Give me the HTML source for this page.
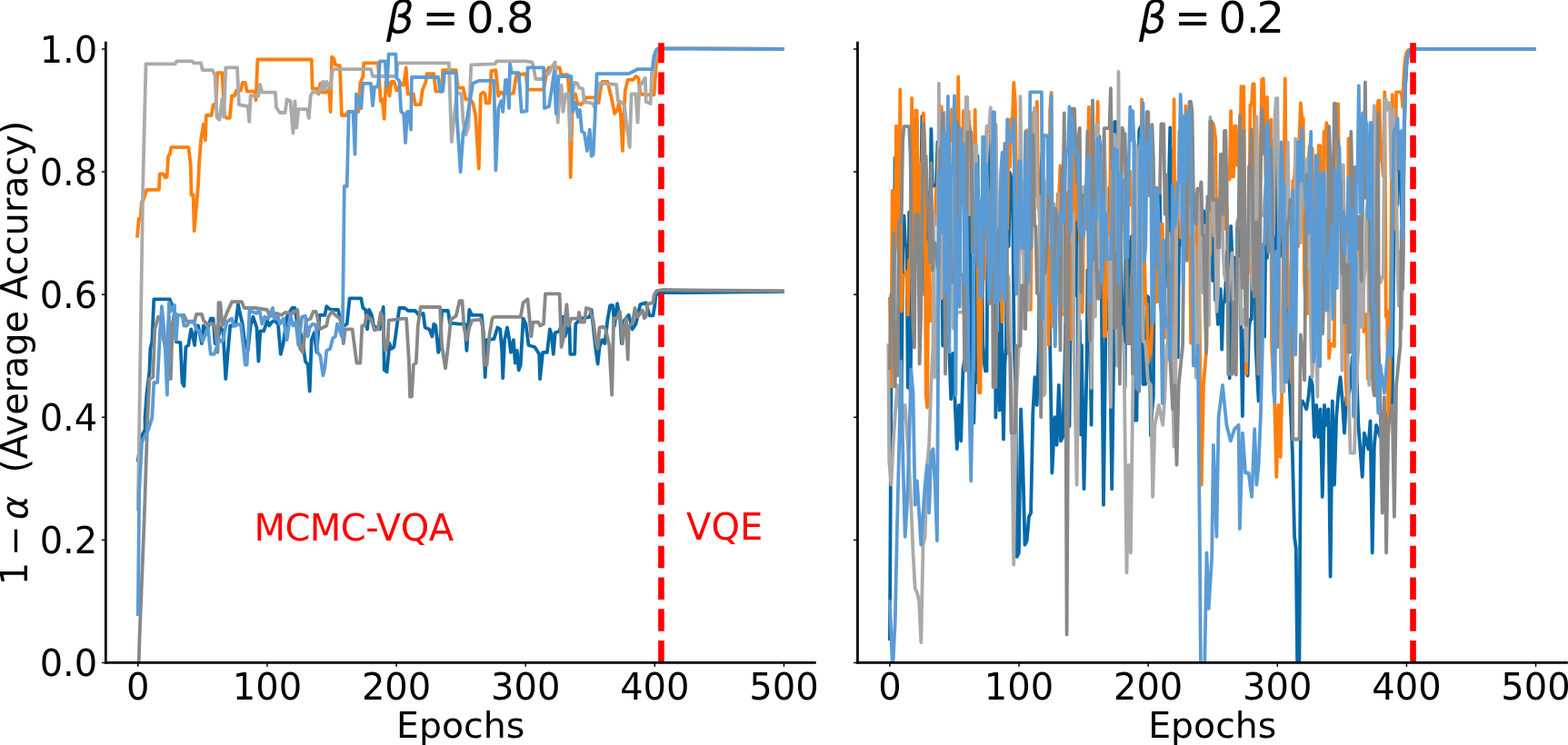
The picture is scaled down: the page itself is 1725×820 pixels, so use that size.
<!DOCTYPE html>
<html><head><meta charset="utf-8"><title>plot</title>
<style>
html,body{margin:0;padding:0;background:#fff;width:1725px;height:820px;overflow:hidden}
svg{display:block}
text{font-family:"DejaVu Sans","Liberation Sans",sans-serif;fill:#000}
.tk{font-size:40px}
.ti{font-size:48px}
.red{font-size:40px;fill:#ff0000}
</style></head><body>
<svg width="1725" height="820" viewBox="0 0 1725 820">
<defs><clipPath id="cl"><rect x="116.34" y="47.2" width="780" height="682.25"/></clipPath>
<clipPath id="cr"><rect x="943.44" y="47.2" width="780" height="682.25"/></clipPath></defs>
<g clip-path="url(#cl)">
<polyline points="151.8,506.6 156.1,479.5 159.6,472.8 159.5,460.0 161.5,432.7 164.4,409.3 165.4,383.9 167.3,376.1 169.3,329.3 186.8,329.3 188.8,335.1 191.7,336.1 193.7,376.1 198.5,377.1 200.5,421.0 202.4,424.9 204.4,382.0 207.3,380.0 210.2,362.4 212.2,370.2 214.1,380.0 216.1,358.5 218.0,358.5 222.0,378.0 223.9,358.5 227.8,364.4 231.7,350.7 234.6,350.7 236.6,378.0 239.5,374.1 242.4,360.5 245.4,364.4 248.3,417.1 250.2,393.7 253.2,358.5 259.0,358.5 262.0,335.1 264.9,348.8 266.8,356.6 268.8,374.1 272.7,385.9 275.6,358.5 278.5,348.8 282.4,360.5 284.4,397.6 286.3,364.4 290.2,364.4 294.1,352.7 296.1,358.5 299.0,354.6 302.0,352.7 305.9,356.6 308.8,389.8 311.7,378.0 315.6,348.8 321.5,339.0 324.4,339.0 327.3,358.5 330.2,364.4 334.1,383.9 335.9,397.6 338.8,401.5 340.7,430.7 342.7,374.1 345.6,366.3 348.5,387.8 351.5,346.8 357.3,346.8 359.3,337.1 362.2,340.0 368.0,341.0 372.0,341.0 375.9,358.5 378.8,358.5 381.7,356.6 384.6,328.3 397.3,328.3 399.3,339.0 402.2,341.0 404.1,362.4 406.1,341.0 409.0,346.8 411.0,358.5 413.9,360.5 417.8,362.4 421.7,338.0 422.7,407.3 425.6,409.3 428.5,378.0 430.5,383.9 433.4,382.0 435.4,368.3 439.3,339.0 445.1,339.0 449.0,342.0 456.8,342.0 460.7,346.8 465.6,344.9 467.6,360.5 472.4,362.4 475.4,370.2 477.3,356.6 479.3,358.5 482.2,387.8 484.1,382.0 486.1,342.0 492.9,342.0 494.9,355.6 505.6,356.6 511.5,356.6 513.4,385.9 516.3,341.0 519.3,346.8 529.8,346.8 531.7,364.4 533.7,415.1 535.6,374.1 543.4,373.2 547.3,360.5 550.2,362.4 552.2,385.9 553.2,416.1 555.1,374.1 558.0,360.5 560.0,372.2 562.0,387.8 564.9,374.1 566.8,399.5 568.8,385.9 570.7,407.3 572.7,401.5 575.6,350.7 578.5,356.6 581.5,380.0 588.3,382.0 593.2,389.8 594.1,417.1 597.1,387.8 602.0,387.8 604.9,362.4 606.8,368.3 608.8,389.8 610.7,366.3 615.6,364.4 619.5,348.8 621.5,370.2 626.3,354.6 627.3,389.8 632.2,389.8 633.2,356.6 639.0,350.7 648.8,348.8 650.7,341.0 654.6,378.0 657.6,400.5 659.5,382.0 662.4,374.1 665.4,378.0 668.3,352.7 671.2,336.1 674.1,336.1 676.1,358.5 679.0,334.1 682.0,348.8 683.9,378.0 686.8,352.7 691.7,346.8 695.6,362.4 699.5,356.6 704.4,335.1 710.7,333.2 714.6,347.3 718.5,347.3 720.5,334.6 721.5,324.9 724.4,322.9 728.3,322.1 760.0,322.0 861.0,320.9" fill="none" stroke="#0569a8" stroke-width="3.8" stroke-linejoin="round" stroke-linecap="square"/>
<polyline points="151.1,259.7 152.7,240.6 154.6,241.4 155.8,222.4 157.4,220.8 161.4,208.9 174.9,208.9 175.7,191.5 179.6,191.5 182.0,195.5 183.6,194.7 185.2,171.7 186.8,170.1 188.3,162.2 207.4,162.2 209.7,181.2 210.5,214.5 212.6,214.5 213.7,254.1 218.0,205.0 219.0,181.6 221.0,154.3 223.9,136.7 225.9,154.3 226.8,127.0 232.7,127.0 234.6,115.2 237.6,115.2 239.1,80.1 244.4,80.1 246.9,127.0 249.3,129.9 252.8,129.9 255.1,105.5 258.0,105.5 260.0,99.6 264.9,99.6 266.8,90.9 269.8,90.9 271.7,100.6 280.5,100.6 281.5,110.4 283.4,65.5 342.7,65.5 343.7,97.7 349.5,97.7 350.5,103.5 352.4,91.8 354.4,101.6 359.3,101.6 362.2,97.7 363.6,123.0 365.1,62.6 367.1,64.5 369.0,71.3 373.9,72.3 375.9,127.0 380.7,127.0 382.7,123.0 394.4,123.0 396.3,91.8 399.3,84.0 400.2,69.4 415.9,69.4 418.8,111.3 420.7,109.4 422.7,130.9 424.6,89.9 426.6,89.9 428.5,105.5 430.5,89.9 433.4,89.9 436.3,99.6 438.3,97.7 441.2,91.8 444.1,93.8 446.7,74.3 448.6,103.5 454.9,103.5 456.8,115.2 462.7,115.2 464.6,99.6 468.5,89.9 469.5,81.1 477.3,81.1 479.3,100.6 486.1,100.6 487.1,77.2 501.7,77.2 503.7,96.7 509.5,96.7 512.4,109.4 517.3,109.4 520.2,113.3 523.2,127.0 526.8,185.5 528.8,103.5 531.7,101.6 533.7,103.5 534.6,113.3 538.5,113.3 540.5,78.2 545.4,77.2 548.3,105.5 551.2,101.6 554.1,103.5 557.1,101.6 561.0,103.5 564.9,102.6 567.8,84.0 571.7,82.1 578.5,81.1 580.5,98.7 598.0,98.7 602.0,77.2 603.9,74.3 615.6,74.3 617.6,83.0 621.5,82.1 624.4,82.1 626.3,103.5 627.7,195.2 629.3,132.8 630.2,103.5 633.2,103.5 635.1,113.3 639.0,115.2 641.0,113.3 644.9,107.4 656.6,107.4 658.5,113.3 660.5,99.6 662.4,89.9 668.3,89.9 672.2,105.5 676.1,125.0 679.0,121.1 681.0,113.3 682.9,127.0 684.9,166.0 686.8,117.2 687.8,99.6 690.7,87.9 696.6,87.9 699.5,84.0 702.4,86.0 704.4,103.5 714.6,104.4 719.5,104.4 721.0,83.9 722.4,64.4 723.4,54.6 725.4,53.3 760.0,53.3 861.0,54.0" fill="none" stroke="#ff7f0e" stroke-width="3.8" stroke-linejoin="round" stroke-linecap="square"/>
<polyline points="151.8,560.6 155.4,324.2 157.2,205.3 157.2,205.0 160.5,70.4 192.7,70.4 194.2,67.4 211.2,67.4 213.2,69.4 221.0,69.4 222.9,77.2 233.7,77.2 236.6,83.0 238.5,128.9 241.5,131.8 244.4,108.4 246.3,128.9 248.3,74.3 261.0,74.3 262.9,115.2 272.7,117.2 274.2,133.8 275.6,105.5 284.4,105.5 286.0,92.8 288.3,101.6 302.9,101.6 303.9,118.2 307.8,124.0 313.7,124.0 315.6,109.4 319.5,111.3 322.4,146.5 324.4,111.3 326.3,140.6 328.3,120.1 337.8,120.1 339.8,129.9 341.7,105.5 343.7,101.6 351.5,101.6 355.4,89.9 357.3,97.7 359.3,89.9 363.2,97.7 366.1,76.2 408.0,76.2 410.0,84.0 436.3,84.0 437.3,69.4 493.9,69.4 494.9,101.6 496.8,156.2 498.8,136.7 502.7,101.6 507.6,103.5 509.5,132.8 512.4,148.4 515.4,138.7 518.3,71.3 544.4,70.4 546.3,67.4 578.5,67.4 585.4,68.4 587.3,76.2 589.3,87.0 597.1,87.0 599.0,81.1 603.9,81.1 606.8,74.3 610.7,68.4 611.7,93.8 613.7,134.8 615.6,103.5 617.6,93.8 619.5,123.0 622.4,103.5 625.4,103.5 627.3,154.3 629.3,103.5 632.2,90.9 635.1,91.8 637.1,96.7 641.0,97.7 642.9,112.3 650.7,113.3 652.7,115.2 654.6,119.1 656.6,103.5 659.5,91.8 668.3,91.8 674.1,92.8 678.0,92.8 680.0,111.3 682.9,112.3 686.8,115.2 688.8,132.8 692.7,162.1 694.6,103.5 699.5,103.5 701.5,134.8 703.4,95.7 709.8,85.9 710.7,112.2 713.7,113.2 715.6,114.1 717.1,79.0 718.5,79.0 720.0,67.3 722.4,59.5 724.4,53.7 726.3,53.4 760.0,53.4 861.0,54.0" fill="none" stroke="#aaaaaa" stroke-width="3.8" stroke-linejoin="round" stroke-linecap="square"/>
<polyline points="152.7,729.5 153.5,702.4 158.6,574.1 161.7,479.5 162.4,460.0 164.4,417.1 168.3,415.1 170.2,362.4 174.1,348.8 177.1,350.7 180.0,374.1 182.9,385.9 185.9,348.8 187.8,417.1 189.8,356.6 191.7,344.9 195.6,346.8 202.4,346.8 205.4,353.7 214.1,353.7 216.1,345.9 222.0,345.9 223.9,352.7 227.8,356.6 235.6,356.6 237.6,368.3 239.5,387.8 240.5,333.2 242.4,333.2 244.4,358.5 250.2,342.9 255.1,332.2 265.9,332.2 268.8,339.0 280.5,339.0 294.1,341.0 296.1,346.8 302.0,348.8 303.9,344.9 309.8,346.8 313.7,343.9 321.5,344.9 327.3,341.0 330.2,383.9 333.2,387.8 336.8,352.7 341.7,350.7 344.6,342.9 347.6,342.9 349.5,350.7 351.5,362.4 355.4,360.5 359.3,358.5 361.2,348.8 365.1,342.9 369.0,346.8 373.9,350.7 375.9,356.6 377.8,378.0 379.8,362.4 387.6,362.4 392.4,399.5 396.3,399.5 398.3,358.5 401.2,358.5 403.2,346.8 406.1,350.7 408.0,350.7 412.0,363.4 415.9,362.4 418.8,343.9 420.7,348.8 423.7,385.9 426.6,378.0 427.6,352.7 443.2,350.7 447.1,350.7 450.0,399.5 451.0,436.6 452.9,436.6 454.9,401.5 457.8,399.5 459.8,358.5 462.7,338.0 484.1,338.0 486.1,380.0 490.0,405.4 492.9,382.0 495.9,351.7 501.7,347.8 505.6,331.2 508.5,331.2 510.5,360.5 513.4,374.1 516.3,360.5 519.3,352.7 528.8,351.7 530.7,358.5 532.7,401.5 535.6,401.5 538.5,368.3 541.5,350.7 543.4,348.8 572.7,348.8 575.6,333.2 580.5,329.3 582.4,348.8 584.4,370.2 586.3,354.6 592.2,354.6 594.1,358.5 598.0,356.6 600.0,323.4 615.6,323.4 617.6,382.0 619.5,374.1 623.4,335.1 625.4,358.5 628.3,350.7 636.1,350.7 637.1,343.9 639.0,354.6 642.9,354.6 644.9,339.0 648.8,340.0 652.7,352.7 655.6,376.1 657.6,383.9 659.5,360.5 663.4,359.5 666.3,362.4 670.2,380.0 673.2,434.6 675.1,350.7 679.0,349.8 682.0,342.9 684.9,378.0 686.8,358.5 688.8,350.7 690.7,395.6 691.7,358.5 695.6,356.6 698.5,339.0 701.5,348.8 706.8,341.5 708.8,350.2 710.7,348.3 712.7,334.6 718.5,333.2 719.5,324.9 722.4,320.0 728.3,319.0 760.0,319.5 861.0,320.1" fill="none" stroke="#888888" stroke-width="3.8" stroke-linejoin="round" stroke-linecap="square"/>
<polyline points="151.8,676.1 153.2,540.3 156.1,486.3 163.2,472.8 167.3,460.0 169.3,421.0 173.2,421.0 176.1,364.4 178.0,337.1 180.0,358.5 182.0,387.8 183.9,434.6 185.9,333.2 187.8,342.9 191.7,336.1 193.7,374.1 195.6,346.8 200.5,346.8 202.4,358.5 205.4,358.5 208.3,354.6 213.2,354.6 216.1,362.4 219.0,364.4 221.0,368.3 222.9,376.1 225.9,368.3 228.8,360.5 231.7,389.8 235.6,389.8 238.5,382.0 240.5,372.2 243.4,376.1 245.4,374.1 249.3,354.6 255.1,350.7 257.1,358.5 264.9,356.6 267.8,382.0 269.8,401.5 271.7,401.5 274.6,339.0 276.6,342.9 282.4,344.9 285.4,341.0 288.3,356.6 291.2,348.8 295.1,350.7 300.0,339.0 302.0,350.7 305.9,348.8 307.8,356.6 311.7,350.7 315.6,374.1 319.5,346.8 322.4,358.5 325.4,354.6 328.3,380.0 332.2,348.8 335.9,347.8 338.8,370.2 340.7,360.5 343.7,356.6 347.6,357.6 349.5,387.8 352.4,391.7 355.4,413.2 357.3,405.4 359.3,385.9 363.2,383.9 366.1,372.2 369.0,370.2 371.0,356.6 373.9,364.4 376.8,372.2 378.8,205.0 381.7,205.0 383.7,123.0 388.5,123.0 390.5,169.9 392.0,103.5 394.4,109.4 397.3,119.1 399.3,91.8 408.0,91.8 410.0,116.2 412.0,95.7 415.9,95.7 417.8,67.4 423.7,67.4 425.6,95.7 427.6,59.6 435.4,59.6 436.3,86.0 439.3,88.9 441.2,123.0 444.1,125.0 446.1,157.2 448.0,123.0 450.0,123.0 452.0,142.6 452.9,85.0 482.2,85.0 484.1,100.6 487.1,100.6 489.0,80.1 501.7,80.1 502.7,128.9 506.6,189.4 509.5,146.5 513.4,132.8 518.3,103.5 520.2,91.8 526.8,88.9 543.4,88.9 545.4,187.4 548.3,119.1 551.2,111.3 553.2,123.0 556.1,87.9 558.0,87.9 560.0,119.1 561.0,70.4 562.9,80.1 570.7,80.1 573.7,123.0 579.5,122.1 580.5,74.3 598.0,74.3 599.0,119.1 603.9,117.2 606.8,99.6 609.8,78.2 611.7,125.0 614.6,84.0 628.3,84.0 630.2,123.0 633.2,113.3 636.1,128.9 638.0,121.1 640.0,144.5 642.9,146.5 645.9,166.0 648.8,142.6 650.7,171.8 652.7,169.9 654.6,128.9 656.6,81.1 660.5,81.1 691.7,81.1 701.5,76.2 717.6,76.1 719.5,61.5 722.0,54.6 724.4,53.2 728.3,53.5 730.7,53.7 760.0,53.7 861.0,54.0" fill="none" stroke="#5b9bd5" stroke-width="3.8" stroke-linejoin="round" stroke-linecap="square"/>
</g>
<g clip-path="url(#cr)">
<polyline points="978.9,703.1 980.3,438.1 981.7,334.2 983.2,344.4 984.6,173.6 986.0,173.6 987.4,269.9 988.8,269.9 990.3,269.9 991.7,447.4 993.1,282.8 994.5,237.7 996.0,269.8 997.4,269.8 998.8,426.5 1000.2,233.6 1001.6,430.6 1003.1,292.7 1004.5,292.7 1005.9,132.0 1007.3,132.0 1008.7,132.0 1010.2,258.7 1011.6,217.8 1013.0,217.8 1014.4,127.9 1015.9,194.8 1017.3,324.2 1018.7,324.2 1020.1,283.1 1021.5,212.3 1023.0,249.5 1024.4,141.9 1025.8,204.5 1027.2,204.5 1028.6,204.5 1030.1,202.1 1031.5,156.1 1032.9,156.1 1034.3,319.4 1035.8,241.0 1037.2,380.6 1038.6,244.1 1040.0,244.1 1041.4,244.1 1042.9,372.3 1044.1,380.0 1046.2,439.3 1048.4,388.8 1052.8,494.2 1055.0,445.9 1057.2,485.4 1059.4,406.4 1063.8,380.0 1065.6,132.0 1067.0,143.9 1068.4,387.8 1069.9,465.5 1071.3,465.5 1072.7,411.1 1074.1,420.9 1075.5,171.3 1077.0,338.7 1078.4,219.0 1079.8,219.0 1081.2,379.1 1082.7,399.5 1084.1,408.4 1085.5,408.4 1086.9,190.1 1088.3,207.9 1089.8,147.8 1091.2,147.8 1092.6,201.8 1094.0,166.8 1095.4,459.4 1096.9,367.2 1098.3,375.0 1099.7,451.6 1101.1,246.9 1102.6,415.2 1104.0,483.5 1105.4,400.8 1106.8,382.6 1108.2,172.4 1109.7,271.0 1111.1,190.1 1112.5,195.6 1113.9,195.6 1115.6,380.0 1117.4,423.9 1118.7,612.8 1120.9,608.4 1123.1,450.3 1125.3,511.8 1127.5,599.6 1129.7,595.2 1131.9,568.8 1134.1,564.5 1136.3,454.7 1138.5,415.1 1140.7,445.9 1142.9,380.0 1143.8,253.3 1145.2,190.5 1146.6,167.6 1148.0,292.1 1149.5,297.2 1150.9,246.3 1152.3,322.6 1153.7,231.9 1155.2,380.0 1157.4,520.5 1160.4,459.1 1162.6,489.8 1164.8,423.9 1167.0,485.4 1169.2,481.0 1171.4,402.0 1172.2,356.3 1173.6,356.3 1175.0,356.3 1176.5,469.0 1177.9,319.8 1179.3,319.8 1180.7,264.7 1182.1,325.7 1183.6,170.2 1185.0,218.9 1186.4,438.5 1187.8,352.8 1189.3,478.4 1189.9,380.0 1192.5,538.1 1195.6,402.0 1196.4,297.3 1197.8,363.3 1199.2,363.8 1200.6,467.7 1202.0,298.0 1203.5,270.0 1204.9,158.3 1206.3,258.6 1207.7,149.8 1209.2,149.8 1210.6,169.1 1212.3,380.0 1214.0,555.7 1216.2,380.0 1217.7,287.0 1219.1,362.5 1220.5,206.7 1221.0,380.0 1223.2,538.1 1225.4,380.0 1226.2,134.1 1227.6,134.1 1229.0,136.3 1230.5,295.6 1231.9,268.1 1233.3,284.3 1234.7,353.4 1236.2,360.0 1237.6,426.1 1239.0,173.0 1240.4,337.5 1241.8,337.5 1243.3,269.1 1244.7,260.1 1246.1,260.1 1247.5,280.1 1248.9,462.7 1250.4,462.7 1251.8,364.0 1253.2,143.7 1254.6,139.9 1256.1,273.8 1257.5,422.9 1258.9,422.9 1260.3,422.9 1261.7,325.7 1263.2,327.1 1264.6,373.4 1266.0,479.4 1267.4,451.2 1268.8,437.0 1270.3,214.7 1271.7,303.4 1273.1,251.1 1274.5,251.1 1276.0,214.3 1277.4,308.2 1278.8,282.0 1280.2,282.0 1281.6,282.0 1283.1,315.4 1284.5,199.6 1285.9,199.6 1287.3,140.4 1288.7,356.6 1290.2,165.4 1291.6,386.1 1293.0,230.4 1294.4,335.6 1295.8,393.3 1297.3,235.9 1298.7,269.7 1300.1,131.7 1301.5,175.5 1303.0,175.5 1304.4,150.1 1305.8,150.1 1307.2,150.1 1308.6,150.1 1310.1,150.1 1311.5,150.1 1312.9,286.0 1314.3,286.0 1315.7,322.4 1317.2,372.0 1318.6,309.5 1320.0,288.5 1321.4,255.9 1322.9,269.3 1324.3,232.4 1325.7,306.6 1327.1,327.1 1328.5,226.6 1330.0,264.1 1331.4,258.7 1332.8,258.7 1334.2,308.9 1335.6,243.5 1337.1,330.4 1338.5,330.4 1339.9,357.0 1341.3,321.9 1342.8,318.3 1344.2,384.7 1345.6,332.5 1347.0,332.5 1348.4,315.5 1349.9,276.7 1351.3,342.2 1352.7,416.3 1354.1,248.9 1355.5,283.7 1357.0,283.7 1358.4,283.7 1359.8,367.4 1361.2,251.3 1362.7,251.3 1364.1,251.3 1365.5,379.0 1366.9,458.0 1368.3,363.3 1369.8,363.3 1371.2,398.5 1372.6,413.5 1374.0,361.8 1375.4,351.3 1376.9,351.3 1378.3,213.0 1379.7,213.0 1381.5,380.0 1384.6,441.5 1386.8,380.0 1388.2,331.1 1389.7,370.4 1391.1,370.4 1392.5,237.6 1393.9,283.9 1395.3,140.9 1396.8,170.6 1398.2,170.6 1399.6,280.7 1401.0,280.7 1402.4,153.8 1403.9,283.2 1405.3,220.7 1406.7,252.0 1408.1,281.5 1409.6,281.5 1411.0,160.7 1412.4,330.1 1413.8,283.9 1415.2,185.9 1416.6,380.0 1419.7,445.9 1421.9,498.6 1424.1,590.8 1425.8,604.0 1427.2,731.3 1429.4,731.3 1431.1,445.9 1432.9,441.5 1437.3,450.3 1439.5,437.1 1441.6,415.1 1443.8,423.9 1446.0,481.0 1448.2,445.9 1450.4,481.0 1452.6,450.3 1454.8,546.9 1457.0,445.9 1459.2,467.8 1461.4,450.3 1463.6,634.7 1465.8,441.5 1468.0,533.7 1470.2,459.1 1472.4,432.7 1474.6,415.1 1476.8,441.5 1479.0,476.6 1481.2,437.1 1483.4,437.1 1485.6,423.9 1487.8,393.2 1492.2,402.0 1494.4,467.8 1498.7,524.9 1500.9,476.6 1505.3,494.2 1507.5,463.4 1509.7,608.4 1511.9,489.8 1514.1,467.8 1518.5,481.0 1522.9,450.3 1527.3,467.8 1531.7,445.9 1533.2,274.7 1534.6,191.2 1536.0,164.0 1537.5,225.1 1538.9,171.2 1540.3,171.2 1541.7,206.7 1543.2,302.0 1544.6,153.9 1546.0,94.3 1547.4,70.2 1548.8,60.5 1550.3,56.6 1551.7,55.1 1553.1,54.4 1555.9,54.1 1561.6,54.0 1575.8,54.0 1604.3,54.0 1646.9,54.0 1688.1,54.0" fill="none" stroke="#0569a8" stroke-width="3.8" stroke-linejoin="round" stroke-linecap="square"/>
<polyline points="978.9,328.9 980.3,425.5 981.7,209.9 983.2,209.9 984.6,272.1 986.0,138.7 987.4,257.3 988.8,281.1 990.3,98.6 991.7,342.6 993.1,303.2 994.5,303.2 996.0,303.2 997.4,298.6 998.8,346.8 1000.2,286.3 1001.6,286.3 1003.1,108.0 1004.5,342.5 1005.9,299.8 1007.3,121.6 1008.7,121.6 1010.2,279.2 1011.6,288.4 1013.0,180.4 1014.4,180.4 1015.9,124.4 1017.3,158.5 1018.7,434.3 1020.1,448.5 1021.5,266.1 1023.0,353.1 1024.4,353.1 1025.8,342.7 1027.2,247.0 1028.6,247.0 1030.1,206.8 1031.5,206.8 1032.9,156.4 1034.3,117.3 1035.8,117.3 1037.2,164.3 1038.6,268.3 1040.0,268.3 1041.4,230.4 1042.9,133.2 1044.3,155.0 1045.7,155.0 1047.1,120.5 1048.5,120.5 1050.0,201.4 1051.4,201.4 1052.8,253.0 1054.2,84.4 1055.7,223.4 1057.1,161.6 1058.5,169.7 1059.9,122.2 1061.3,122.2 1062.8,122.2 1064.2,177.3 1065.6,122.6 1067.0,184.7 1068.4,230.0 1069.9,230.0 1071.3,230.0 1072.7,120.8 1074.1,258.8 1075.5,268.5 1077.0,432.2 1078.4,432.2 1079.8,316.4 1081.2,245.9 1082.7,306.8 1084.1,218.6 1085.5,144.3 1086.9,144.3 1088.3,144.3 1089.8,141.3 1091.2,175.9 1092.6,247.1 1094.0,136.8 1095.4,136.8 1096.9,251.9 1098.3,241.3 1099.7,222.1 1101.1,307.9 1102.6,354.2 1104.0,206.8 1105.4,206.8 1106.8,253.1 1108.2,252.2 1109.7,131.9 1111.1,183.6 1112.5,131.1 1113.9,131.1 1115.3,90.8 1116.8,112.1 1118.2,205.5 1119.6,282.3 1121.0,232.1 1122.5,232.1 1123.9,232.1 1125.3,278.6 1126.7,278.6 1128.1,251.6 1129.6,143.3 1131.0,152.3 1132.4,184.6 1133.8,340.8 1135.2,213.8 1136.7,123.9 1138.1,145.7 1139.5,145.7 1140.9,111.8 1142.3,229.1 1143.8,229.1 1145.2,215.0 1146.6,215.0 1148.0,275.3 1149.5,239.1 1150.9,218.4 1152.3,298.5 1153.7,379.5 1155.1,122.2 1156.6,101.8 1158.0,358.5 1159.4,358.5 1160.8,310.2 1162.2,310.2 1163.7,213.5 1165.1,213.5 1166.5,182.4 1167.9,345.9 1169.4,345.9 1170.8,345.9 1172.2,345.9 1173.6,212.1 1175.0,212.1 1176.5,212.1 1177.9,373.2 1179.3,373.2 1180.7,373.2 1182.1,166.7 1183.6,166.7 1185.0,241.3 1186.4,241.3 1187.8,255.9 1189.3,343.6 1190.7,343.6 1192.1,251.4 1193.5,251.4 1194.9,228.7 1196.4,228.7 1197.8,117.8 1199.2,202.0 1200.6,228.0 1202.0,194.1 1203.5,190.7 1204.9,190.7 1206.3,190.7 1207.7,112.0 1209.2,324.1 1210.6,198.3 1212.0,226.3 1213.4,218.7 1214.8,369.9 1216.3,369.9 1217.7,244.1 1219.1,244.1 1220.5,327.8 1221.9,123.2 1223.4,248.0 1224.8,309.6 1226.2,205.9 1227.6,296.1 1229.0,292.0 1230.5,292.0 1231.9,270.8 1233.3,160.5 1234.7,160.5 1236.2,160.5 1237.6,165.7 1239.0,192.9 1240.4,192.9 1241.8,190.8 1243.3,188.6 1244.7,225.7 1246.1,225.7 1247.5,403.3 1248.9,403.3 1250.4,311.0 1251.8,207.4 1253.2,277.0 1254.6,277.0 1256.1,109.4 1257.5,244.0 1258.9,275.4 1260.3,334.4 1261.7,334.4 1263.2,399.0 1264.6,389.7 1266.0,389.7 1267.4,358.0 1268.8,228.5 1270.3,333.0 1271.7,329.1 1273.1,332.1 1274.5,276.3 1276.0,326.8 1277.4,246.6 1278.8,246.6 1280.2,371.3 1281.6,371.3 1283.1,355.5 1284.5,355.5 1285.9,342.1 1287.3,347.7 1288.7,356.6 1290.2,356.6 1291.6,109.4 1293.0,416.1 1294.4,200.4 1295.8,200.4 1297.3,200.4 1298.7,261.2 1300.1,159.0 1301.5,270.1 1303.0,222.1 1304.4,116.7 1305.8,153.2 1307.2,141.3 1308.6,157.6 1310.1,377.7 1311.5,295.1 1312.9,341.5 1314.3,367.4 1315.7,338.9 1317.2,227.3 1318.6,227.3 1320.0,380.0 1321.8,533.7 1324.0,423.9 1327.5,380.0 1328.5,241.8 1330.0,280.0 1331.4,280.0 1332.8,135.4 1334.2,135.4 1335.6,139.7 1337.1,152.2 1338.5,274.9 1339.9,219.7 1341.3,219.7 1342.8,219.7 1344.2,187.9 1345.6,219.3 1347.0,251.9 1348.4,251.9 1349.9,189.8 1351.3,197.3 1352.7,197.3 1354.1,122.1 1355.5,194.4 1357.0,194.4 1358.4,138.7 1359.8,138.7 1361.2,182.2 1362.7,182.2 1364.1,182.2 1365.5,95.2 1366.9,184.4 1368.3,95.2 1369.8,310.0 1371.2,411.6 1372.6,299.6 1374.0,299.6 1375.4,115.5 1376.9,115.4 1378.3,92.3 1379.7,92.3 1381.1,234.2 1382.5,234.2 1384.0,354.9 1385.4,309.3 1386.8,166.1 1388.2,87.3 1389.7,86.6 1391.1,123.3 1392.5,198.5 1393.9,106.8 1395.3,180.4 1396.8,248.7 1398.2,131.7 1399.0,380.0 1402.1,437.1 1404.3,524.9 1406.5,445.9 1408.7,503.0 1411.3,380.0 1412.4,214.2 1413.8,86.4 1415.2,258.7 1416.7,294.5 1418.1,339.1 1419.5,339.1 1420.9,421.8 1422.3,199.0 1423.8,199.0 1425.2,174.5 1426.6,238.4 1428.0,271.6 1429.5,150.4 1430.9,113.4 1432.3,130.1 1433.7,130.1 1435.1,309.7 1436.6,345.4 1438.0,345.4 1439.4,178.2 1440.8,161.0 1442.2,247.1 1443.7,163.4 1445.1,280.8 1446.5,286.0 1447.9,286.0 1449.4,276.6 1450.8,160.2 1452.2,160.2 1453.6,244.2 1455.0,355.7 1456.5,144.9 1457.9,168.2 1459.3,135.1 1460.7,203.4 1462.1,394.1 1463.6,379.0 1465.0,379.0 1466.4,379.0 1467.8,381.3 1469.2,243.4 1470.7,122.3 1472.1,114.3 1473.5,241.4 1474.9,221.7 1476.4,221.7 1477.8,216.4 1479.2,284.3 1480.6,417.1 1482.0,445.4 1483.5,152.3 1484.9,152.3 1486.3,152.3 1487.7,212.8 1489.1,219.2 1490.6,219.2 1492.0,252.1 1493.4,252.1 1494.8,252.1 1496.3,315.0 1497.7,315.0 1499.1,315.0 1500.5,365.1 1501.9,346.2 1503.4,346.2 1504.8,417.0 1506.2,417.0 1507.6,417.0 1509.0,269.3 1510.5,348.6 1511.9,359.4 1513.3,268.4 1514.7,124.7 1516.2,110.6 1517.6,110.6 1519.0,175.0 1520.4,177.9 1521.8,193.7 1523.3,101.3 1524.7,348.0 1526.1,342.2 1527.5,476.3 1528.9,415.3 1530.4,265.2 1531.8,104.1 1533.2,205.7 1534.6,251.8 1536.0,101.3 1537.5,101.3 1538.9,101.3 1540.3,101.3 1541.7,101.3 1543.2,117.7 1544.6,79.7 1546.0,64.3 1547.4,58.2 1548.8,55.7 1550.3,54.7 1551.7,54.3 1553.1,54.1 1555.9,54.0 1561.6,54.0 1575.8,54.0 1604.3,54.0 1646.9,54.0 1688.1,54.0" fill="none" stroke="#ff7f0e" stroke-width="3.8" stroke-linejoin="round" stroke-linecap="square"/>
<polyline points="977.3,380.0 978.2,507.4 980.4,533.7 982.6,489.8 987.0,423.9 991.4,467.8 995.7,445.9 1000.1,511.8 1002.3,555.7 1004.5,608.4 1006.7,647.9 1008.9,652.3 1011.1,661.1 1013.3,707.2 1015.5,599.6 1017.7,590.8 1019.9,511.8 1022.1,489.8 1024.3,423.9 1026.5,380.0 1027.2,236.5 1028.6,415.2 1030.1,415.2 1031.5,415.2 1032.9,91.8 1034.3,328.3 1035.8,328.3 1037.2,138.4 1038.6,124.0 1040.0,367.0 1041.4,367.0 1042.9,367.0 1044.3,195.4 1045.7,195.4 1047.1,184.1 1048.5,361.0 1050.0,361.0 1051.4,351.7 1052.8,343.6 1054.2,343.6 1055.7,343.6 1057.1,343.6 1058.5,343.6 1059.9,343.6 1061.3,179.6 1062.8,106.8 1064.2,106.8 1065.6,235.8 1067.0,235.8 1068.4,192.9 1069.9,223.0 1071.3,213.6 1072.7,159.5 1074.1,159.5 1075.5,235.0 1077.0,218.8 1078.4,218.8 1079.8,262.2 1081.2,262.2 1082.7,151.8 1084.1,278.3 1085.5,139.0 1086.9,139.0 1088.3,139.0 1089.8,118.3 1091.2,195.2 1092.6,267.6 1094.0,267.6 1095.4,139.6 1096.9,214.4 1098.3,311.3 1099.7,311.3 1101.1,277.6 1102.6,277.6 1104.0,213.9 1105.4,293.5 1106.8,238.0 1108.2,304.2 1109.7,304.2 1111.2,380.0 1112.6,423.9 1115.2,621.5 1117.8,445.9 1120.9,380.0 1122.5,106.1 1123.9,201.9 1125.3,201.9 1126.7,361.2 1128.1,304.5 1129.6,317.2 1131.0,341.2 1132.4,326.6 1133.8,164.9 1135.2,271.9 1136.7,220.1 1138.1,118.7 1139.5,126.2 1140.9,216.9 1142.3,216.9 1143.8,245.1 1145.2,441.9 1146.6,359.2 1148.0,435.2 1149.5,433.3 1150.9,199.7 1152.3,199.7 1153.7,165.2 1155.1,267.7 1156.6,267.7 1158.0,224.4 1159.4,224.4 1160.8,297.3 1162.2,323.2 1163.7,323.2 1165.1,213.2 1166.5,213.2 1167.9,287.9 1169.4,338.4 1170.8,338.4 1172.2,338.0 1173.6,338.0 1175.0,338.0 1176.5,242.8 1177.9,266.5 1179.3,262.6 1180.7,234.2 1181.5,380.0 1184.6,533.7 1186.8,380.0 1187.8,267.1 1189.3,267.1 1190.7,286.9 1192.1,205.7 1193.5,205.7 1194.9,205.7 1196.4,253.0 1197.8,245.2 1199.2,245.2 1200.6,426.9 1202.0,288.3 1203.5,348.4 1204.9,348.4 1206.3,137.1 1207.7,137.1 1209.2,301.5 1210.6,169.8 1212.0,206.5 1213.4,169.8 1214.8,149.0 1216.3,200.6 1217.7,276.0 1219.1,261.6 1220.5,290.3 1221.9,448.0 1223.4,261.9 1224.8,148.2 1226.2,148.2 1227.6,324.5 1229.0,402.7 1230.5,79.0 1231.9,362.0 1233.3,359.2 1234.7,376.4 1236.4,380.0 1239.5,630.3 1241.7,511.8 1243.9,608.4 1246.9,380.0 1247.5,155.4 1248.9,159.6 1250.4,200.9 1251.8,315.3 1253.2,162.5 1254.6,158.7 1256.1,336.0 1257.5,375.7 1258.9,375.7 1260.3,380.0 1262.9,419.5 1266.0,423.9 1268.2,546.9 1270.4,467.8 1274.8,445.9 1279.2,467.8 1281.4,437.1 1283.5,380.0 1284.5,395.9 1285.9,257.1 1287.3,325.6 1288.7,325.6 1290.2,436.0 1291.6,491.4 1293.0,479.2 1294.4,239.7 1295.8,239.7 1297.3,144.5 1298.7,149.3 1300.1,243.6 1301.5,256.3 1303.0,256.3 1304.4,256.3 1305.8,229.5 1307.2,227.0 1308.6,227.0 1310.1,256.6 1311.5,237.6 1312.9,271.1 1314.3,271.1 1315.7,415.6 1317.2,415.6 1318.6,415.6 1320.0,214.6 1321.4,200.5 1322.9,321.6 1324.3,322.4 1325.7,248.3 1327.1,248.3 1328.5,309.2 1330.0,357.8 1331.4,128.9 1332.8,172.4 1334.2,172.4 1335.6,259.7 1337.1,259.7 1338.5,342.9 1339.9,321.6 1341.3,221.8 1342.8,239.4 1344.2,225.8 1345.6,277.6 1347.0,302.4 1348.4,308.1 1349.9,308.1 1351.3,331.4 1352.7,296.6 1354.1,296.6 1355.5,278.3 1357.0,350.3 1358.4,335.5 1359.8,397.3 1361.2,287.5 1362.7,284.9 1364.1,285.3 1365.5,356.6 1366.9,356.6 1368.3,340.9 1369.8,340.9 1371.2,397.3 1372.6,276.1 1374.0,232.7 1375.4,203.1 1376.9,284.6 1378.3,319.2 1379.7,319.2 1381.1,290.5 1382.5,128.4 1384.0,237.2 1385.4,237.2 1386.8,237.2 1388.2,237.2 1389.7,237.2 1391.1,221.6 1392.5,201.8 1393.9,201.8 1395.3,173.6 1396.8,173.6 1398.2,173.6 1399.6,193.6 1401.0,258.9 1402.4,129.9 1403.9,108.1 1405.3,108.1 1406.7,231.5 1408.1,355.6 1409.6,430.9 1411.0,430.9 1412.4,430.9 1413.8,291.9 1415.2,236.0 1416.7,156.5 1418.1,237.7 1419.5,237.7 1420.9,282.3 1422.3,309.4 1423.8,344.1 1425.2,152.6 1426.6,235.2 1428.0,206.2 1429.5,229.0 1430.9,267.0 1432.3,163.5 1433.7,163.5 1435.1,207.8 1436.6,232.3 1438.0,174.9 1439.4,294.5 1440.8,248.4 1442.2,374.2 1443.7,415.5 1445.1,374.7 1446.5,374.7 1447.9,374.7 1449.4,436.7 1450.8,240.7 1452.2,240.7 1453.6,312.5 1455.0,215.6 1456.5,324.2 1457.9,238.0 1459.3,238.0 1460.7,189.6 1462.1,371.9 1463.6,254.0 1465.0,174.6 1466.4,329.9 1467.8,174.4 1469.2,227.2 1470.7,227.2 1472.1,227.5 1473.5,234.4 1474.9,234.4 1476.4,407.5 1477.8,181.4 1479.2,283.2 1480.6,283.2 1482.0,269.4 1482.5,380.0 1483.4,423.9 1485.6,498.6 1490.0,498.6 1492.2,423.9 1494.4,380.0 1494.8,282.4 1496.3,282.4 1497.7,359.8 1499.1,359.8 1500.5,306.1 1501.9,291.7 1503.4,233.4 1504.8,222.1 1506.2,423.8 1507.6,218.4 1509.0,212.6 1510.5,153.9 1511.9,116.1 1513.3,300.4 1514.7,300.4 1516.2,300.4 1517.6,310.8 1519.0,310.8 1520.4,305.2 1521.8,305.2 1523.3,109.1 1524.7,109.1 1526.1,120.9 1527.5,113.3 1528.9,113.3 1530.4,195.4 1531.8,195.4 1533.2,120.5 1534.6,203.3 1536.0,189.4 1537.5,297.0 1538.9,336.7 1540.3,276.2 1541.7,361.8 1543.2,295.0 1544.6,151.1 1546.0,93.1 1547.4,69.8 1548.8,60.3 1550.3,56.6 1551.7,55.0 1553.1,54.4 1555.9,54.1 1561.6,54.0 1575.8,54.0 1604.3,54.0 1646.9,54.0 1688.1,54.0" fill="none" stroke="#aaaaaa" stroke-width="3.8" stroke-linejoin="round" stroke-linecap="square"/>
<polyline points="978.9,405.2 980.3,324.2 981.7,358.0 983.2,256.6 984.6,425.4 986.0,369.7 987.4,413.2 988.8,243.6 990.3,243.6 991.7,243.6 993.1,155.5 994.5,139.1 996.0,139.1 997.4,139.1 998.8,139.1 1000.2,139.1 1001.6,171.4 1003.1,308.4 1004.5,357.3 1005.9,382.7 1007.3,235.9 1008.7,235.9 1010.2,235.9 1011.6,400.5 1013.0,350.5 1014.4,248.3 1015.9,136.2 1017.3,172.0 1018.7,172.0 1020.1,224.2 1021.5,233.5 1023.0,288.4 1024.4,179.7 1025.8,297.5 1027.2,267.4 1028.6,267.4 1030.1,279.9 1031.5,294.8 1032.9,291.3 1034.3,163.8 1035.8,163.8 1037.2,124.8 1038.6,163.0 1040.0,411.5 1041.4,314.4 1042.9,139.1 1044.3,139.1 1045.7,243.3 1047.1,310.4 1048.5,310.4 1050.0,310.4 1051.4,291.6 1052.8,133.9 1054.2,138.9 1055.7,302.4 1057.1,302.4 1058.5,302.4 1059.9,302.4 1061.3,407.8 1062.8,407.8 1064.2,145.6 1065.6,145.6 1067.0,145.6 1068.4,145.6 1069.9,277.8 1071.3,277.8 1072.7,277.8 1074.1,188.4 1075.5,292.4 1077.0,248.2 1078.4,320.4 1079.8,320.4 1081.2,320.4 1082.7,213.5 1084.1,213.5 1085.5,225.0 1086.9,283.7 1088.3,334.3 1089.8,321.2 1091.2,159.3 1092.6,426.1 1094.0,426.1 1095.4,426.1 1096.9,294.4 1098.3,255.7 1099.7,250.8 1101.1,230.3 1102.6,230.3 1104.0,230.3 1105.4,158.0 1106.8,197.0 1108.2,355.1 1109.7,389.3 1111.1,389.3 1112.5,476.3 1113.9,476.3 1115.3,476.3 1116.8,476.3 1118.2,380.7 1119.6,380.7 1121.0,380.7 1122.5,380.7 1123.9,314.5 1125.3,314.5 1126.7,314.5 1128.1,362.0 1129.6,258.0 1131.0,243.3 1132.4,229.6 1133.8,274.2 1135.2,148.4 1136.7,148.4 1138.1,249.0 1139.5,249.0 1140.9,322.9 1142.3,322.9 1143.8,331.7 1145.2,459.0 1146.6,239.3 1148.0,301.0 1149.5,301.0 1150.9,285.3 1152.3,252.8 1153.7,203.7 1155.1,231.7 1156.6,231.7 1158.0,289.5 1159.4,322.4 1160.8,229.1 1162.2,234.4 1163.7,246.6 1165.1,296.1 1166.5,385.7 1167.9,186.8 1169.4,216.1 1170.8,124.5 1172.3,380.0 1173.6,698.4 1175.4,380.0 1176.5,159.5 1177.9,204.9 1179.3,120.0 1180.7,120.0 1182.1,120.0 1183.6,173.7 1185.0,200.5 1186.4,152.6 1187.8,140.8 1189.3,322.0 1190.7,215.2 1192.1,215.2 1193.5,215.2 1194.9,215.2 1196.4,144.4 1197.8,343.8 1199.2,374.9 1200.6,282.9 1202.0,110.5 1203.5,206.3 1204.9,250.5 1206.3,296.0 1207.7,328.6 1209.2,328.6 1210.6,298.9 1212.0,298.9 1213.4,298.9 1214.8,141.1 1216.3,141.1 1217.7,141.1 1219.1,141.1 1220.5,141.1 1221.9,97.2 1223.4,185.3 1224.8,178.9 1226.2,360.7 1227.6,360.7 1229.0,285.6 1230.5,265.4 1231.9,422.7 1233.3,228.0 1234.7,140.7 1236.2,147.1 1237.6,147.1 1239.0,239.7 1240.4,378.2 1241.8,378.2 1243.3,378.2 1244.7,303.6 1246.1,411.3 1247.5,257.2 1248.9,351.9 1250.4,351.9 1251.8,427.2 1253.2,430.9 1254.6,189.0 1256.1,155.0 1257.5,155.0 1258.9,154.6 1260.3,164.7 1261.7,123.1 1263.2,123.1 1264.6,215.4 1266.0,215.4 1267.4,137.2 1268.8,172.9 1270.3,265.8 1271.7,292.0 1273.1,209.1 1274.5,212.4 1276.0,212.4 1277.4,136.4 1278.8,136.4 1280.2,136.4 1281.6,235.6 1283.1,192.9 1284.5,288.8 1285.9,288.8 1286.6,380.0 1290.1,450.3 1292.3,423.9 1294.5,511.8 1296.7,423.9 1301.1,380.0 1303.0,210.8 1304.4,175.0 1305.8,286.8 1307.2,149.9 1308.6,111.8 1310.1,111.8 1311.5,123.1 1312.9,213.7 1314.3,213.7 1315.7,246.4 1317.2,207.7 1318.6,208.0 1320.0,209.9 1321.4,200.7 1322.9,258.3 1324.3,258.3 1325.7,337.4 1327.1,388.5 1328.5,216.1 1330.0,231.9 1331.4,133.3 1332.8,133.3 1334.2,219.9 1335.6,219.9 1337.1,219.9 1338.5,219.9 1339.9,272.4 1341.3,272.4 1342.8,169.8 1344.2,169.8 1345.6,235.6 1347.0,144.0 1348.4,144.0 1349.9,232.3 1351.3,411.8 1352.7,411.8 1354.1,411.8 1355.5,411.8 1357.0,332.4 1358.4,407.5 1359.8,412.5 1361.2,245.6 1362.7,239.8 1364.1,127.0 1365.5,290.0 1366.9,316.6 1368.3,144.0 1369.8,324.6 1371.2,357.9 1372.6,285.7 1374.0,183.3 1375.4,183.3 1376.9,142.6 1378.3,246.6 1379.7,326.7 1381.1,245.0 1382.5,245.0 1384.0,411.7 1385.4,411.7 1386.8,193.7 1388.2,119.5 1389.7,138.7 1391.1,170.1 1392.5,164.0 1393.9,160.6 1395.3,277.1 1396.8,277.1 1398.2,162.3 1399.6,217.6 1401.0,363.5 1402.4,363.5 1403.9,297.2 1405.3,381.9 1406.7,292.8 1408.1,230.6 1409.6,230.6 1411.0,256.3 1412.4,280.1 1413.8,410.9 1415.2,255.5 1416.7,242.8 1418.1,242.8 1419.5,219.7 1420.9,244.1 1422.3,483.5 1423.8,483.5 1425.2,483.5 1426.6,483.5 1428.0,483.5 1429.5,483.5 1430.9,368.5 1432.3,386.1 1433.7,386.1 1435.1,418.7 1436.6,262.4 1438.0,192.0 1439.4,215.7 1440.8,205.7 1442.2,205.7 1443.7,257.1 1445.1,257.1 1446.5,257.1 1447.9,357.7 1449.4,276.7 1450.8,234.0 1452.2,191.5 1453.6,326.5 1455.0,367.5 1456.5,322.6 1457.9,231.0 1459.3,317.9 1460.7,297.5 1462.1,139.0 1463.6,177.0 1465.0,267.8 1466.4,267.8 1467.8,114.0 1469.2,114.0 1470.7,153.2 1472.1,153.0 1473.5,191.3 1474.9,202.7 1476.4,300.9 1477.8,233.2 1479.2,355.0 1480.6,355.0 1482.0,291.4 1483.5,387.5 1484.9,387.5 1486.3,144.8 1487.7,273.5 1489.1,455.8 1490.6,184.0 1492.0,273.9 1493.4,273.9 1494.8,238.4 1496.3,238.4 1497.7,309.1 1499.1,217.9 1500.5,217.9 1501.9,90.5 1503.4,217.9 1504.8,217.9 1506.2,208.6 1507.6,342.9 1509.0,342.9 1510.5,426.5 1511.9,435.4 1513.3,435.4 1514.7,220.3 1516.2,125.6 1516.7,380.0 1518.5,445.9 1520.7,564.5 1522.9,437.1 1525.1,608.4 1527.3,467.8 1531.7,445.9 1533.9,568.8 1536.1,423.9 1540.5,380.0 1541.7,252.8 1543.2,317.8 1544.6,160.3 1546.0,96.8 1547.4,71.3 1548.8,61.0 1550.3,56.8 1551.7,55.1 1553.1,54.5 1555.9,54.1 1561.6,54.0 1575.8,54.0 1604.3,54.0 1646.9,54.0 1688.1,54.0" fill="none" stroke="#888888" stroke-width="3.8" stroke-linejoin="round" stroke-linecap="square"/>
<polyline points="978.9,661.9 980.3,695.7 981.7,729.5 982.6,726.9 984.8,683.0 987.0,577.6 989.2,489.8 991.4,397.6 993.5,511.8 995.7,590.8 997.9,555.7 1000.1,489.8 1002.3,406.4 1004.5,432.7 1006.7,555.7 1008.9,529.3 1011.1,564.5 1013.3,599.6 1015.5,564.5 1017.7,533.7 1019.9,511.8 1022.1,564.5 1024.3,498.6 1026.5,494.2 1028.7,533.7 1030.9,595.2 1032.2,380.0 1032.9,187.7 1034.3,213.1 1035.8,255.1 1037.2,144.9 1038.6,144.9 1040.0,322.2 1041.4,287.5 1042.9,105.9 1044.3,387.3 1045.7,198.7 1047.1,182.9 1048.5,182.9 1050.0,105.5 1051.4,435.0 1052.8,242.1 1054.2,242.1 1055.7,337.8 1057.1,141.8 1058.5,225.0 1059.9,158.3 1061.3,312.0 1062.8,231.8 1064.2,288.9 1065.1,380.0 1068.2,529.3 1070.8,380.0 1071.3,282.5 1072.7,282.5 1074.1,180.6 1075.5,221.1 1077.0,221.1 1078.4,326.7 1079.8,326.7 1081.2,150.9 1082.7,150.9 1084.1,249.2 1085.5,182.0 1086.9,216.0 1088.3,327.6 1089.8,296.5 1091.2,296.5 1092.6,123.3 1094.0,123.3 1095.4,333.7 1096.9,303.7 1098.3,303.7 1099.7,330.9 1101.1,192.2 1102.6,167.8 1104.0,315.4 1105.4,330.3 1106.8,234.7 1108.2,131.4 1109.7,155.7 1111.1,155.7 1112.5,155.7 1113.9,142.8 1115.3,131.0 1116.8,282.7 1118.2,323.6 1119.6,274.3 1121.0,177.5 1122.5,177.5 1123.9,272.8 1125.3,272.8 1126.7,273.1 1128.1,144.8 1129.6,299.1 1131.0,194.3 1131.8,310.7 1133.3,101.3 1145.9,101.3 1147.2,351.2 1148.0,149.1 1149.5,149.1 1150.9,149.1 1152.3,149.1 1153.7,213.5 1155.1,212.0 1156.6,104.7 1158.0,332.1 1159.4,332.1 1160.8,381.3 1162.2,306.2 1163.7,281.0 1165.1,281.0 1166.5,235.7 1167.9,235.7 1169.4,243.1 1170.8,243.1 1172.2,174.7 1173.6,164.3 1175.0,164.3 1176.5,117.5 1177.9,254.9 1179.3,130.1 1180.7,159.1 1182.1,166.3 1183.6,166.6 1185.0,166.6 1186.4,174.2 1187.8,253.4 1189.3,253.4 1190.7,259.6 1192.1,259.6 1193.5,237.2 1194.9,222.8 1196.4,173.4 1197.8,173.4 1199.2,332.1 1200.6,286.7 1202.0,272.8 1203.5,228.8 1204.9,228.8 1206.3,242.1 1207.7,152.4 1209.2,152.4 1210.6,181.9 1212.0,312.1 1213.4,214.9 1214.8,245.9 1216.3,233.9 1217.7,285.2 1219.1,285.2 1220.5,285.2 1221.9,285.2 1223.4,245.7 1224.8,183.0 1226.2,163.5 1227.6,185.0 1229.0,164.9 1230.5,311.9 1231.9,190.2 1233.3,198.1 1234.7,198.1 1236.2,198.1 1237.6,283.2 1239.0,283.2 1240.4,283.2 1241.8,179.0 1243.3,117.7 1244.7,154.1 1246.1,122.1 1247.5,155.7 1248.9,377.5 1250.4,427.7 1251.8,427.7 1253.2,279.1 1254.6,155.0 1256.1,148.3 1257.5,113.4 1258.9,287.7 1260.3,270.3 1261.7,156.3 1263.2,176.0 1264.6,176.0 1266.0,139.4 1267.4,355.2 1268.8,355.2 1270.3,258.1 1271.7,206.8 1273.1,206.8 1274.5,240.6 1276.0,325.3 1277.4,344.5 1278.8,443.8 1280.2,264.5 1281.6,345.0 1283.1,359.7 1284.5,359.7 1285.9,359.7 1287.3,394.7 1288.7,338.9 1290.2,203.5 1291.6,249.9 1293.0,246.3 1294.4,236.1 1295.8,201.1 1297.3,201.1 1298.7,104.0 1300.1,144.7 1301.5,310.8 1303.0,128.0 1304.4,199.6 1305.8,122.3 1307.2,156.7 1308.6,121.5 1310.1,181.9 1311.5,249.2 1312.9,402.4 1314.3,402.4 1315.7,393.5 1317.2,393.5 1317.8,380.0 1320.0,608.4 1320.9,731.3 1325.3,731.3 1327.5,608.4 1329.7,669.9 1333.2,612.8 1334.9,489.8 1338.4,590.8 1340.6,459.1 1345.0,423.9 1349.4,467.8 1353.8,485.4 1358.2,472.2 1362.6,467.8 1363.9,582.0 1367.0,476.6 1370.1,520.5 1373.6,520.5 1377.1,546.9 1380.2,472.2 1382.4,533.7 1384.6,511.8 1386.8,459.1 1388.9,380.0 1389.7,268.7 1391.1,268.7 1392.5,213.6 1393.9,142.3 1395.3,135.1 1396.8,243.2 1398.2,263.7 1399.6,274.3 1401.0,430.2 1402.4,443.2 1403.9,276.9 1405.3,341.6 1406.7,256.5 1408.1,256.5 1409.6,156.5 1411.0,202.3 1412.4,202.3 1413.8,420.7 1415.2,420.7 1416.7,415.8 1418.1,342.7 1419.5,359.4 1420.9,256.0 1422.3,210.0 1423.8,387.6 1425.2,390.4 1426.6,275.7 1428.0,156.2 1429.5,156.2 1430.9,199.4 1432.3,140.6 1433.7,198.3 1435.1,198.3 1436.6,225.5 1438.0,225.5 1439.4,256.8 1440.8,177.9 1442.2,145.0 1443.7,263.2 1445.1,398.2 1446.5,388.5 1447.9,171.2 1449.4,171.2 1450.8,403.1 1452.2,403.1 1453.6,193.0 1455.0,193.0 1456.5,189.5 1457.9,290.5 1459.3,341.5 1460.7,341.5 1462.1,281.1 1463.6,281.1 1465.0,249.9 1466.4,351.1 1467.8,316.1 1469.2,187.9 1470.7,317.1 1472.1,210.9 1473.5,162.2 1474.9,232.7 1476.4,232.7 1477.8,261.2 1479.2,279.1 1480.6,239.3 1482.0,250.4 1483.5,195.6 1484.9,289.2 1486.3,230.9 1487.7,230.9 1489.1,458.6 1490.6,407.5 1492.0,200.7 1493.4,200.7 1494.8,94.5 1496.3,234.3 1497.7,234.3 1499.1,124.4 1500.5,132.1 1501.9,132.1 1503.4,136.1 1504.8,239.6 1506.2,239.6 1507.6,135.1 1509.0,135.1 1510.5,336.4 1511.9,336.4 1513.2,380.0 1516.3,454.7 1518.5,402.0 1522.9,432.7 1527.3,380.0 1528.9,361.9 1530.4,392.0 1531.8,265.8 1533.2,147.8 1534.6,141.2 1536.0,141.2 1537.5,130.3 1538.9,185.9 1540.3,185.9 1541.7,144.2 1543.2,261.9 1544.6,137.8 1546.0,87.8 1547.4,67.6 1548.8,59.5 1550.3,56.2 1551.7,54.9 1553.1,54.4 1555.9,54.1 1561.6,54.0 1575.8,54.0 1604.3,54.0 1646.9,54.0 1688.1,54.0" fill="none" stroke="#5b9bd5" stroke-width="3.8" stroke-linejoin="round" stroke-linecap="square"/>
</g>
<line x1="727.43" y1="729.45" x2="727.43" y2="47.2" stroke="#ff0000" stroke-width="6.6" stroke-dasharray="24.35 10.4"/>
<line x1="116.34" y1="47.2" x2="116.34" y2="729.45" stroke="#000" stroke-width="2.75" stroke-linecap="square"/>
<line x1="116.34" y1="729.45" x2="896.34" y2="729.45" stroke="#000" stroke-width="2.75" stroke-linecap="square"/>
<line x1="111.94" y1="729.45" x2="116.34" y2="729.45" stroke="#000" stroke-width="1.5"/>
<text x="107.29" y="744.35" text-anchor="end" class="tk">0.0</text>
<line x1="111.94" y1="594.36" x2="116.34" y2="594.36" stroke="#000" stroke-width="1.5"/>
<text x="107.29" y="609.26" text-anchor="end" class="tk">0.2</text>
<line x1="111.94" y1="459.27" x2="116.34" y2="459.27" stroke="#000" stroke-width="1.5"/>
<text x="107.29" y="474.17" text-anchor="end" class="tk">0.4</text>
<line x1="111.94" y1="324.18" x2="116.34" y2="324.18" stroke="#000" stroke-width="1.5"/>
<text x="107.29" y="339.08" text-anchor="end" class="tk">0.6</text>
<line x1="111.94" y1="189.09" x2="116.34" y2="189.09" stroke="#000" stroke-width="1.5"/>
<text x="107.29" y="203.99" text-anchor="end" class="tk">0.8</text>
<line x1="111.94" y1="54.00" x2="116.34" y2="54.00" stroke="#000" stroke-width="1.5"/>
<text x="107.29" y="68.90" text-anchor="end" class="tk">1.0</text>
<line x1="151.80" y1="729.45" x2="151.80" y2="733.85" stroke="#000" stroke-width="1.5"/>
<text x="151.80" y="769.5" text-anchor="middle" class="tk">0</text>
<line x1="293.93" y1="729.45" x2="293.93" y2="733.85" stroke="#000" stroke-width="1.5"/>
<text x="293.93" y="769.5" text-anchor="middle" class="tk">100</text>
<line x1="436.06" y1="729.45" x2="436.06" y2="733.85" stroke="#000" stroke-width="1.5"/>
<text x="436.06" y="769.5" text-anchor="middle" class="tk">200</text>
<line x1="578.19" y1="729.45" x2="578.19" y2="733.85" stroke="#000" stroke-width="1.5"/>
<text x="578.19" y="769.5" text-anchor="middle" class="tk">300</text>
<line x1="720.32" y1="729.45" x2="720.32" y2="733.85" stroke="#000" stroke-width="1.5"/>
<text x="720.32" y="769.5" text-anchor="middle" class="tk">400</text>
<line x1="862.45" y1="729.45" x2="862.45" y2="733.85" stroke="#000" stroke-width="1.5"/>
<text x="862.45" y="769.5" text-anchor="middle" class="tk">500</text>
<text x="506.64" y="812.1" text-anchor="middle" class="tk" style="font-size:39.4px">Epochs</text>
<line x1="1554.53" y1="729.45" x2="1554.53" y2="47.2" stroke="#ff0000" stroke-width="6.6" stroke-dasharray="24.35 10.4"/>
<line x1="943.44" y1="47.2" x2="943.44" y2="729.45" stroke="#000" stroke-width="2.75" stroke-linecap="square"/>
<line x1="943.44" y1="729.45" x2="1723.44" y2="729.45" stroke="#000" stroke-width="2.75" stroke-linecap="square"/>
<line x1="939.04" y1="729.45" x2="943.44" y2="729.45" stroke="#000" stroke-width="1.5"/>
<line x1="939.04" y1="594.36" x2="943.44" y2="594.36" stroke="#000" stroke-width="1.5"/>
<line x1="939.04" y1="459.27" x2="943.44" y2="459.27" stroke="#000" stroke-width="1.5"/>
<line x1="939.04" y1="324.18" x2="943.44" y2="324.18" stroke="#000" stroke-width="1.5"/>
<line x1="939.04" y1="189.09" x2="943.44" y2="189.09" stroke="#000" stroke-width="1.5"/>
<line x1="939.04" y1="54.00" x2="943.44" y2="54.00" stroke="#000" stroke-width="1.5"/>
<line x1="978.90" y1="729.45" x2="978.90" y2="733.85" stroke="#000" stroke-width="1.5"/>
<text x="978.90" y="769.5" text-anchor="middle" class="tk">0</text>
<line x1="1121.03" y1="729.45" x2="1121.03" y2="733.85" stroke="#000" stroke-width="1.5"/>
<text x="1121.03" y="769.5" text-anchor="middle" class="tk">100</text>
<line x1="1263.16" y1="729.45" x2="1263.16" y2="733.85" stroke="#000" stroke-width="1.5"/>
<text x="1263.16" y="769.5" text-anchor="middle" class="tk">200</text>
<line x1="1405.29" y1="729.45" x2="1405.29" y2="733.85" stroke="#000" stroke-width="1.5"/>
<text x="1405.29" y="769.5" text-anchor="middle" class="tk">300</text>
<line x1="1547.42" y1="729.45" x2="1547.42" y2="733.85" stroke="#000" stroke-width="1.5"/>
<text x="1547.42" y="769.5" text-anchor="middle" class="tk">400</text>
<line x1="1689.55" y1="729.45" x2="1689.55" y2="733.85" stroke="#000" stroke-width="1.5"/>
<text x="1689.55" y="769.5" text-anchor="middle" class="tk">500</text>
<text x="1333.74" y="812.1" text-anchor="middle" class="tk" style="font-size:39.4px">Epochs</text>
<text x="279.4" y="594.5" class="red" letter-spacing="-0.5">MCMC-VQA</text>
<text x="755.1" y="594.3" class="red">VQE</text>
<text y="36.3" class="ti"><tspan x="424.9" font-style="italic">β</tspan><tspan x="464.5">=</tspan><tspan x="513.1">0</tspan><tspan x="543">.</tspan><tspan x="557">8</tspan></text>
<text y="36.3" class="ti"><tspan x="1253" font-style="italic">β</tspan><tspan x="1292">=</tspan><tspan x="1340.5">0</tspan><tspan x="1370.7">.</tspan><tspan x="1382.5">2</tspan></text>
<text transform="translate(29.9,0) rotate(-90)" class="tk"><tspan x="-644.2">1</tspan><tspan x="-611.8">−</tspan><tspan x="-572" font-style="italic">α</tspan><tspan x="-520.6" letter-spacing="-0.18">(Average Accuracy)</tspan></text>
</svg>
</body></html>
